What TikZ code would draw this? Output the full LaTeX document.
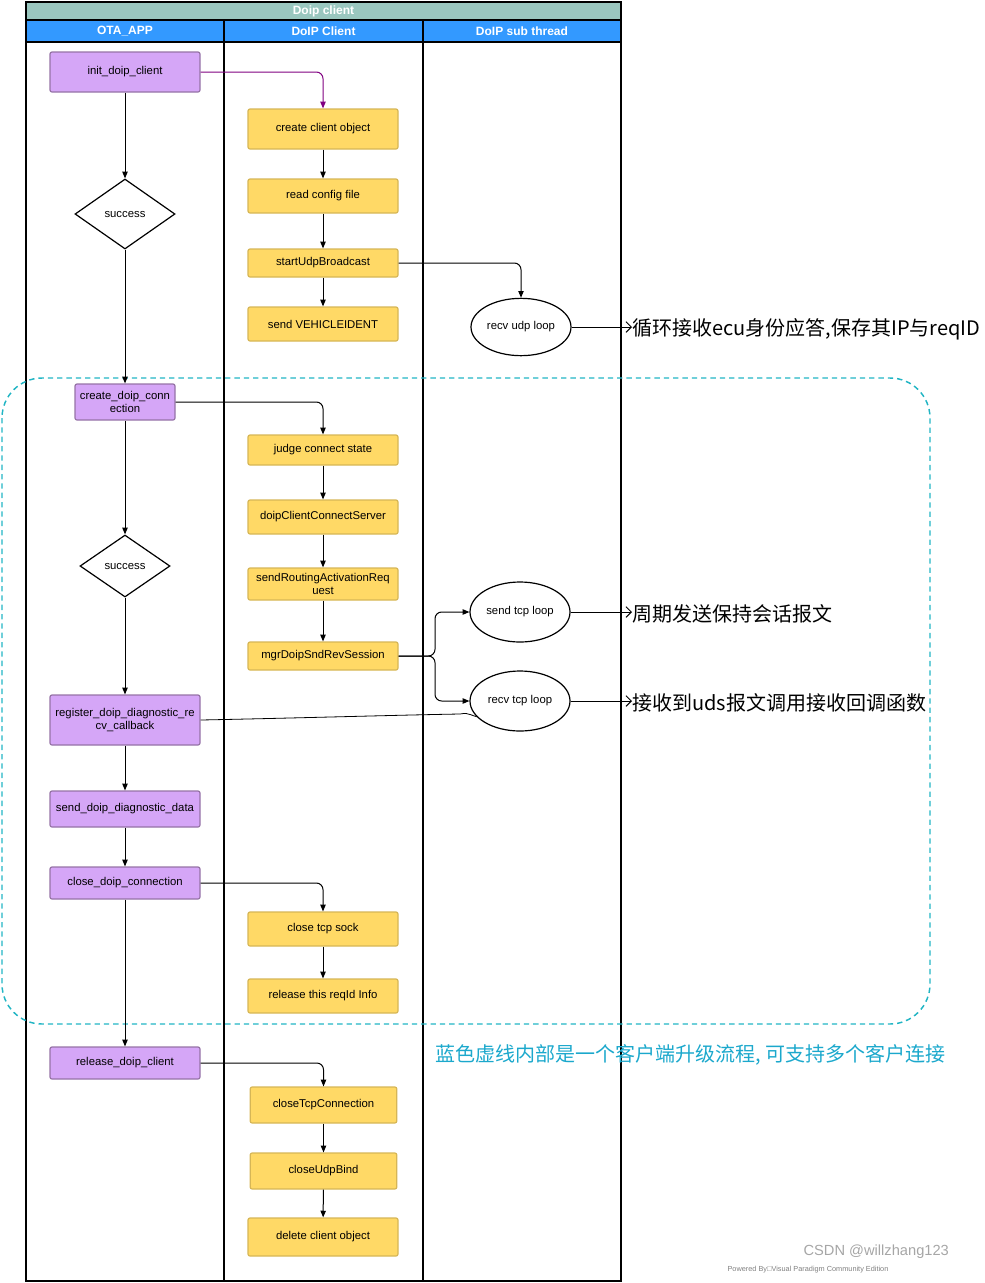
\documentclass[tikz,border=0pt]{standalone}
\usepackage{fontspec}
\setmainfont{Liberation Sans}
\newfontfamily\cjk{Noto Sans CJK SC}
\usetikzlibrary{arrows.meta,shapes.geometric}
\definecolor{pur}{HTML}{D5A6F7}
\definecolor{purb}{HTML}{9673A6}
\definecolor{yel}{HTML}{FFD966}
\definecolor{yelb}{HTML}{D6B656}
\definecolor{teal}{HTML}{9AC7BF}
\definecolor{hdr}{HTML}{3399FF}
\definecolor{cy}{HTML}{22B5C4}
\definecolor{note}{HTML}{1BA8CC}
\begin{document}
\begin{tikzpicture}[x=0.75pt,y=-0.75pt,
 every node/.style={font=\fontsize{8.5}{10}\selectfont,align=center,inner sep=1pt},
 pn/.style={draw=purb,fill=pur,rounded corners=1.5pt,line width=0.9pt,minimum width=112.5pt,minimum height=27pt},
 yn/.style={draw=yelb,fill=yel,rounded corners=1.5pt,line width=0.9pt,minimum width=112.5pt,minimum height=24pt},
 dia/.style={diamond,draw,line width=0.9pt,fill=white,aspect=1.43,inner sep=0pt},
 ell/.style={ellipse,draw,line width=0.9pt,fill=white,minimum width=75pt,minimum height=43pt},
 ar/.style={-{Triangle[length=5pt,width=4pt]},line width=0.75pt,rounded corners=5pt},
 hd/.style={text=white,font=\bfseries\fontsize{9}{10}\selectfont},
 ann/.style={font=\cjk\fontsize{15}{17}\selectfont,anchor=west,inner sep=0pt}]
\useasboundingbox (0,0) rectangle (985,1283);
% pool
\draw[line width=0.9pt,fill=teal] (26,2) rectangle (621,20);
\node[hd] (ttl) at (323.5,11) {Doip client};
\draw[line width=0.9pt,fill=hdr] (26,20) rectangle (621,42);
\draw[line width=0.9pt] (26,42) rectangle (621,1281);
\draw[line width=0.9pt] (224,20) -- (224,1281) (423,20) -- (423,1281);
\node[hd] (h1) at (125,31) {OTA\_APP};
\node[hd] (h2) at (323.5,31) {DoIP Client};
\node[hd] (h3) at (522,31) {DoIP sub thread};
% dashed region
\draw[cy,line width=1.1pt,dash pattern=on 4pt off 3pt,rounded corners=30pt] (2,378) rectangle (930,1024);
% OTA_APP nodes
\node[pn,minimum height=30pt] (init) at (125,72) {init\_doip\_client};
\node[dia,minimum width=75pt,minimum height=52.5pt] (s1) at (125,214) {success};
\node[pn,minimum width=75pt] (cc) at (125,402) {create\_doip\_conn\\ection};
\node[dia,minimum width=67.5pt,minimum height=46.5pt] (s2) at (125,566) {success};
\node[pn,minimum height=37.5pt] (reg) at (125,720) {register\_doip\_diagnostic\_re\\cv\_callback};
\node[pn] (send) at (125,809) {send\_doip\_diagnostic\_data};
\node[pn,minimum height=24pt] (close) at (125,883) {close\_doip\_connection};
\node[pn,minimum height=24pt] (rel) at (125,1063) {release\_doip\_client};
% DoIP client nodes
\node[yn,minimum height=30pt] (cco) at (323,129) {create client object};
\node[yn,minimum height=25.5pt] (rcf) at (323,196) {read config file};
\node[yn,minimum height=21pt] (sub) at (323,263) {startUdpBroadcast};
\node[yn,minimum height=25.5pt] (sv) at (323,324) {send VEHICLEIDENT};
\node[yn,minimum height=22.5pt] (jcs) at (323,450) {judge connect state};
\node[yn,minimum height=25.5pt] (dcc) at (323,517) {doipClientConnectServer};
\node[yn,minimum height=24pt] (sra) at (323,584) {sendRoutingActivationReq\\uest};
\node[yn,minimum height=21pt] (mgr) at (323,656) {mgrDoipSndRevSession};
\node[yn,minimum height=25.5pt] (cts) at (323,929) {close tcp sock};
\node[yn,minimum height=25.5pt] (rri) at (323,996) {release this reqId Info};
\node[yn,minimum width=110pt,minimum height=27pt] (ctc) at (323.5,1105) {closeTcpConnection};
\node[yn,minimum width=110pt,minimum height=27pt] (cub) at (323.5,1171) {closeUdpBind};
\node[yn,minimum height=28.5pt] (dco) at (323,1237) {delete client object};
% ellipses
\node[ell] (rul) at (521,327) {recv udp loop};
\node[ell,minimum height=45pt] (stl) at (520,612) {send tcp loop};
\node[ell,minimum height=45pt] (rtl) at (520,701) {recv tcp loop};
% annotations
\node[ann] (a1) at (632,329) {循环接收ecu身份应答,保存其IP与reqID};
\node[ann] (a2) at (632,614) {周期发送保持会话报文};
\node[ann] (a3) at (632,703) {接收到uds报文调用接收回调函数};
\node[ann,text=note] (a4) at (435,1055) {蓝色虚线内部是一个客户端升级流程, 可支持多个客户连接};
\node[anchor=west,text=gray,font=\fontsize{5.5}{6}\selectfont] (wm1) at (726,1270) {Powered By□Visual Paradigm Community Edition};
\node[anchor=west,text=gray!70,font=\fontsize{11}{12}\selectfont] (wm2) at (802,1252) {CSDN @willzhang123};
% OTA flow
\draw[ar] (init) -- (s1);
\draw[ar] (s1) -- (cc);
\draw[ar] (cc) -- (s2);
\draw[ar] (s2) -- (reg);
\draw[ar] (reg) -- (send);
\draw[ar] (send) -- (close);
\draw[ar] (close) -- (rel);
% DoIP flow
\draw[ar] (cco) -- (rcf);
\draw[ar] (rcf) -- (sub);
\draw[ar] (sub) -- (sv);
\draw[ar] (jcs) -- (dcc);
\draw[ar] (dcc) -- (sra);
\draw[ar] (sra) -- (mgr);
\draw[ar] (cts) -- (rri);
\draw[ar] (ctc) -- (cub);
\draw[ar] (cub) -- (dco);
% cross-lane
\draw[ar,color=violet] (init.east) -| (cco.north);
\draw[ar] (cc.east) -| (jcs.north);
\draw[ar] (close.east) -| (cts.north);
\draw[ar] (rel.east) -| (ctc.north);
\draw[ar] (sub.east) -| (rul.north);
\draw[ar] (mgr.east) -- (435,656) |- (stl.west);
\draw[ar] (mgr.east) -- (435,656) |- (rtl.west);
\draw[line width=0.6pt] (reg.east) .. controls (300,718) and (400,715) .. (460,714) .. controls (466,713) .. (rtl.200);
% annotations arrows
\draw[-{Straight Barb[length=4pt]},line width=0.75pt] (rul.east) -- (rul.east-|a1.west);
\draw[-{Straight Barb[length=4pt]},line width=0.75pt] (stl.east) -- (stl.east-|a2.west);
\draw[-{Straight Barb[length=4pt]},line width=0.75pt] (rtl.east) -- (rtl.east-|a3.west);
\end{tikzpicture}
\end{document}
